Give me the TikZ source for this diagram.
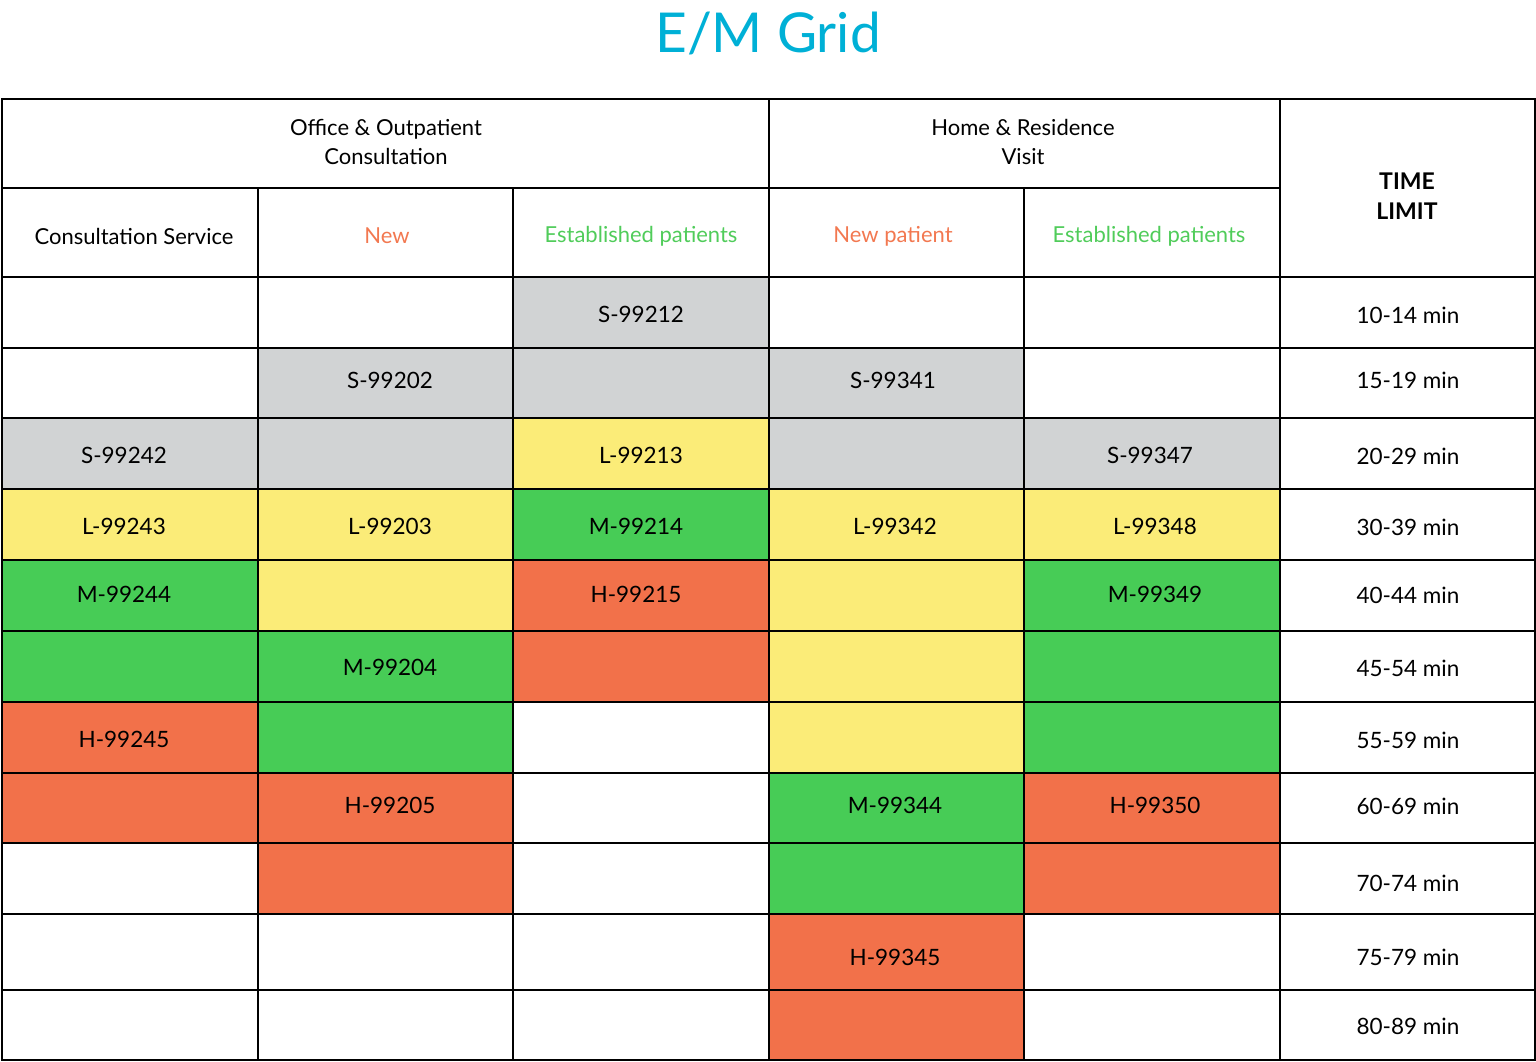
\documentclass[tikz,border=0pt]{standalone}
\usepackage{fontspec}
\setmainfont{Lato}
\definecolor{cgray}{RGB}{209,211,212}
\definecolor{cyel}{RGB}{251,236,120}
\definecolor{cgreen}{RGB}{71,204,86}
\definecolor{corange}{RGB}{242,113,74}
\definecolor{ttlcyan}{RGB}{0,176,214}
\definecolor{hnew}{RGB}{242,120,80}
\definecolor{hest}{RGB}{80,204,90}
\tikzset{
  cell/.style={font=\fontsize{22.5}{26}\selectfont, text=black, inner sep=0pt, yshift=-2pt},
  hdr/.style={font=\fontsize{22}{29}\selectfont, align=center, inner sep=0pt, yshift=-1pt},
  grid/.style={line width=1.5pt, black},
}
\begin{document}
\begin{tikzpicture}[x=1pt,y=-1pt]
\useasboundingbox (0,0) rectangle (1536,1062);
% column and row boundaries
\def\xs{{2,258,513,769,1024,1280,1535}}
\def\ys{{277,348,418,489,560,631,702,773,843,914,990,1060}}
% fills: col/row/colour
\foreach \c/\r/\col in {
 2/0/cgray,
 1/1/cgray, 2/1/cgray, 3/1/cgray,
 0/2/cgray, 1/2/cgray, 2/2/cyel, 3/2/cgray, 4/2/cgray,
 0/3/cyel, 1/3/cyel, 2/3/cgreen, 3/3/cyel, 4/3/cyel,
 0/4/cgreen, 1/4/cyel, 2/4/corange, 3/4/cyel, 4/4/cgreen,
 0/5/cgreen, 1/5/cgreen, 2/5/corange, 3/5/cyel, 4/5/cgreen,
 0/6/corange, 1/6/cgreen, 3/6/cyel, 4/6/cgreen,
 0/7/corange, 1/7/corange, 3/7/cgreen, 4/7/corange,
 1/8/corange, 3/8/cgreen, 4/8/corange,
 3/9/corange,
 3/10/corange}{
  \pgfmathsetmacro{\xa}{\xs[\c]}
  \pgfmathsetmacro{\xb}{\xs[\c+1]}
  \pgfmathsetmacro{\ya}{\ys[\r]}
  \pgfmathsetmacro{\yb}{\ys[\r+1]}
  \fill[\col] (\xa,\ya) rectangle (\xb,\yb);
}
% grid lines
\draw[grid] (2,99) rectangle (1535,1060);
\draw[grid] (2,188) -- (1280,188);
\draw[grid] (2,277) -- (1535,277);
\foreach \y in {348,418,489,560,631,702,773,843,914,990}
  \draw[grid] (2,\y) -- (1535,\y);
\draw[grid] (769,99) -- (769,1060);
\draw[grid] (1280,99) -- (1280,1060);
\foreach \x in {258,513,1024}
  \draw[grid] (\x,188) -- (\x,1060);

% title
\node[font=\fontsize{55}{60}\selectfont, text=ttlcyan, inner sep=0pt] (title) at (768,33) {E/M Grid};

% headers
\node[hdr] (hoffice) at (386,141) {Office \& Outpatient\\Consultation};
\node[hdr] (hhome) at (1023,141) {Home \& Residence\\Visit};
\node[hdr, font=\fontsize{23}{30}\selectfont\bfseries] (htime) at (1407,195) {TIME\\LIMIT};
\node[hdr] (hcons) at (134,235) {Consultation Service};
\node[hdr, text=hnew] (hnewo) at (387,235) {New};
\node[hdr, text=hest] (hesto) at (641,235) {Established patients};
\node[hdr, text=hnew] (hnewh) at (893,235) {New patient};
\node[hdr, text=hest] (hesth) at (1149,235) {Established patients};

% codes
\node[cell] (c212) at (641,312) {S-99212};
\node[cell] (c202) at (390,378) {S-99202};
\node[cell] (c341) at (893,378) {S-99341};
\node[cell] (c242) at (124,453) {S-99242};
\node[cell] (c213) at (641,453) {L-99213};
\node[cell] (c347) at (1150,453) {S-99347};
\node[cell] (c243) at (124,524) {L-99243};
\node[cell] (c203) at (390,524) {L-99203};
\node[cell] (c214) at (636,524) {M-99214};
\node[cell] (c342) at (895,524) {L-99342};
\node[cell] (c348) at (1155,524) {L-99348};
\node[cell] (c244) at (124,592) {M-99244};
\node[cell] (c215) at (636,592) {H-99215};
\node[cell] (c349) at (1155,592) {M-99349};
\node[cell] (c204) at (390,665) {M-99204};
\node[cell] (c245) at (124,737) {H-99245};
\node[cell] (c205) at (390,803) {H-99205};
\node[cell] (c344) at (895,803) {M-99344};
\node[cell] (c350) at (1155,803) {H-99350};
\node[cell] (c345) at (895,955) {H-99345};

% time limits
\foreach \t/\y [count=\i] in {10-14/313,15-19/378,20-29/454,30-39/525,40-44/593,45-54/666,55-59/738,60-69/804,70-74/881,75-79/955,80-89/1024}
  \node[cell] (t\i) at (1408,\y) {\t{} min};
\end{tikzpicture}
\end{document}
